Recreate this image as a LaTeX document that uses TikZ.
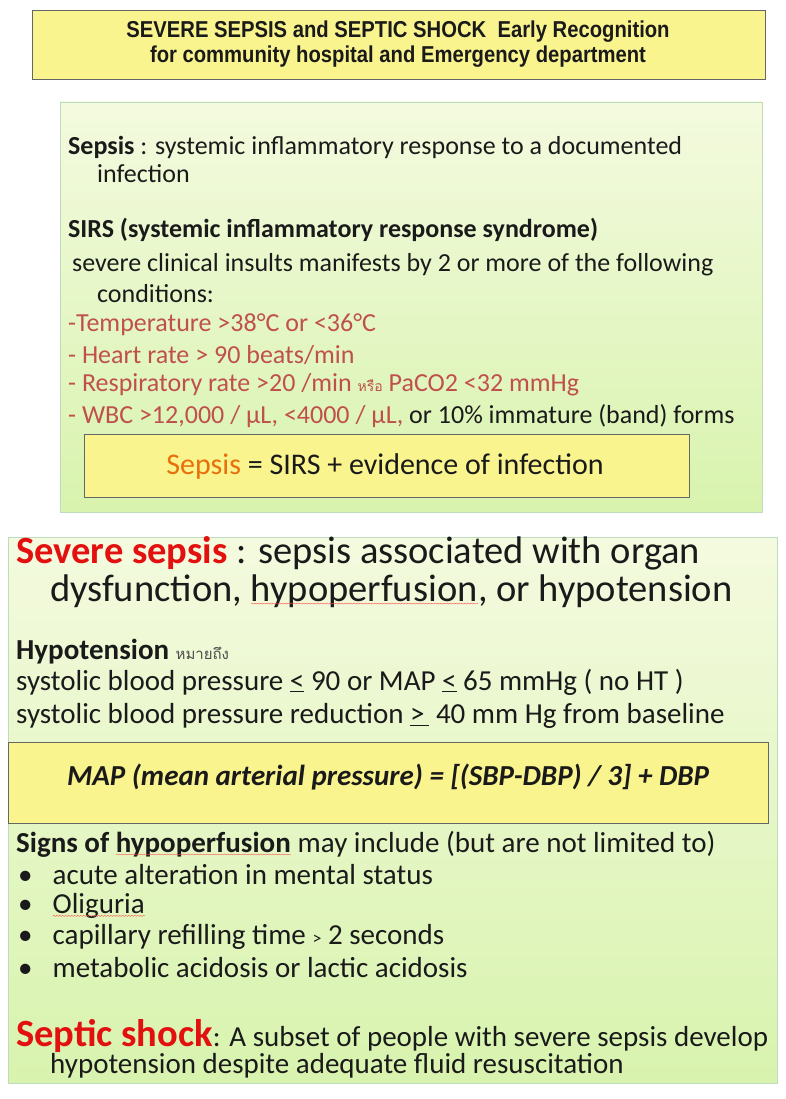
\documentclass[tikz,border=0pt]{standalone}
\usepackage{fontspec}
\usetikzlibrary{decorations.pathmorphing}
\setmainfont{Carlito}
\newfontfamily\titlefont[FakeStretch=0.88]{Liberation Sans}
\newfontfamily\thaifont[Script=Thai]{Loma}
\definecolor{ylw}{HTML}{FAF48F}
\definecolor{gtop}{HTML}{F4FADF}
\definecolor{gbot}{HTML}{D8F3AE}
\definecolor{cond}{HTML}{C0504D}
\definecolor{sepor}{HTML}{E8700A}
\definecolor{sred}{HTML}{E31010}
\definecolor{txt}{HTML}{1A1A1A}
\newsavebox{\wvbox}
\newcommand{\wv}[1]{\sbox{\wvbox}{#1}\rlap{\usebox{\wvbox}}\raisebox{-3pt}{\color{red!70}\tikz\draw[decorate,decoration={snake,amplitude=0.5pt,segment length=3pt},line width=0.4pt] (0pt,0pt) -- (\wd\wvbox,0pt);}}
\begin{document}
\begin{tikzpicture}[x=1pt,y=-1pt,
  ybox/.style={draw=black!60,fill=ylw,line width=0.8pt},
  gbox/.style={draw=green!30!gray!40,top color=gtop,bottom color=gbot,line width=0.5pt},
  tl/.style={anchor=west,inner sep=0pt,text=txt,font=\fontsize{26}{28}\selectfont},
  tb/.style={tl,font=\fontsize{29}{31}\selectfont}]
\useasboundingbox (0,0) rectangle (785,1099);
\fill[white] (0,0) rectangle (785,1099);
% title
\draw[ybox] (32,10) rectangle (765,79);
\node[inner sep=0pt,align=center,text=txt,font=\titlefont\bfseries\fontsize{23}{25}\selectfont] (title) at (398,44)
 {SEVERE SEPSIS and SEPTIC SHOCK\ \ Early Recognition\\for community hospital and Emergency department};
% box 1
\draw[gbox] (60,102) rectangle (762,512);
\node[tl] (s1) at (68,147) {\textbf{Sepsis} : systemic inflammatory response to a documented};
\node[tl] (s2) at (97,174) {infection};
\node[tl] (s3) at (68,230) {\textbf{SIRS (systemic inflammatory response syndrome)}};
\node[tl] (s4) at (72,265) {severe clinical insults manifests by 2 or more of the following};
\node[tl] (s5) at (97,294) {conditions:};
\node[tl,text=cond] (c1) at (68,325) {-Temperature >38°C or <36°C};
\node[tl,text=cond] (c2) at (68,355) {- Heart rate > 90 beats/min};
\node[tl,text=cond] (c3) at (68,385) {- Respiratory rate >20 /min {\thaifont\fontsize{14}{16}\selectfont หรือ} PaCO2 <32 mmHg};
\node[tl] (c4) at (68,416) {{\color{cond}- WBC >12,000 / µL, <4000 / µL,} or 10\% immature (band) forms};
\draw[ybox] (84,434) rectangle (689,497);
\node[tl,anchor=center,font=\fontsize{30}{32}\selectfont] (eq) at (385,466) {{\color{sepor}Sepsis} = SIRS + evidence of infection};
% box 2
\draw[gbox] (8,537) rectangle (777,1083);
\node[tl,font=\fontsize{38.5}{40}\selectfont] (ss1) at (16,553) {{\color{sred}\textbf{Severe sepsis}} : sepsis associated with organ};
\node[tl,font=\fontsize{38.5}{40}\selectfont] (ss2) at (50,591) {dysfunction, \wv{hypoperfusion}, or hypotension};
\node[tb] (h1) at (16,652) {\textbf{Hypotension} {\thaifont\fontsize{15}{17}\selectfont\color{black!70}หมายถึง}};
\node[tb] (h2) at (16,682) {systolic blood pressure \underline{<} 90 or MAP \underline{<} 65 mmHg ( no HT )};
\node[tb] (h3) at (16,716) {systolic blood pressure reduction \underline{>\,} 40 mm Hg from baseline};
\draw[ybox] (8,742) rectangle (768,823);
\node[tl,anchor=center,font=\fontsize{29}{31}\selectfont\bfseries\itshape] (map) at (388,777) {MAP (mean arterial pressure) = [(SBP-DBP) / 3] + DBP};
\node[tb] (g0) at (16,844) {\textbf{Signs of \wv{hypoperfusion}} may include (but are not limited to)};
\node[tb] (b1) at (18,875) {•\hspace{20pt}acute alteration in mental status};
\node[tb] (b2) at (18,906) {•\hspace{20pt}\wv{Oliguria}};
\node[tb] (b3) at (18,937) {•\hspace{20pt}capillary refilling time {\fontsize{18}{20}\selectfont >} 2 seconds};
\node[tb] (b4) at (18,968) {•\hspace{20pt}metabolic acidosis or lactic acidosis};
\node[tb] (sh1) at (16,1036) {{\color{sred}\fontsize{38.5}{40}\selectfont\textbf{Septic shock}}: A subset of people with severe sepsis develop};
\node[tb] (sh2) at (50,1066) {hypotension despite adequate fluid resuscitation};
\end{tikzpicture}
\end{document}
